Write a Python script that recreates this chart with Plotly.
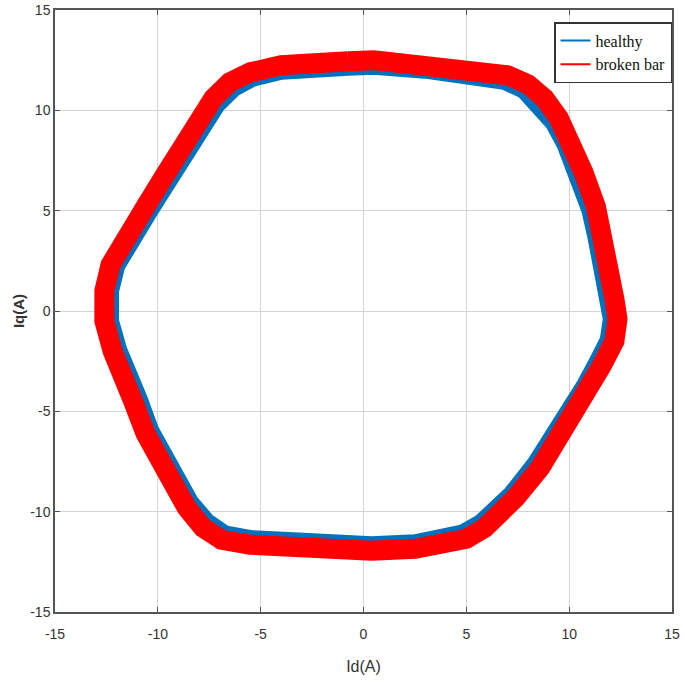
import plotly.graph_objects as go

# Read-off points (Id, Iq) of the band centre for each series (closed loop, start/end mid top edge)
healthy_id = [-0.75, -2.0, -4.0, -5.4, -6.3, -7.1, -8.45, -9.45, -10.35, -11.35, -12.0, -12.3, -12.3,
              -11.9, -11.5, -10.9, -10.35, -9.65, -9.05, -8.4, -7.6, -6.75, -5.4, -3.6, -1.5, 0.4,
              2.5, 3.9, 4.85, 5.7, 6.5, 7.2, 8.35, 9.15, 9.95, 10.75, 11.3, 11.9, 12.05, 11.9, 11.7,
              11.3, 11.0, 10.4, 9.8, 9.25, 8.55, 7.8, 6.85, 4.95, 3.0, 0.5, -0.75]
healthy_iq = [12.15, 12.1, 11.95, 11.6, 11.1, 10.3, 8.3, 6.5, 5.05, 3.4, 2.25, 1.0, -0.5,
              -1.95, -2.75, -4.4, -5.95, -7.2, -8.4, -9.55, -10.5, -11.1, -11.35, -11.5, -11.65, -11.65,
              -11.55, -11.3, -11.05, -10.55, -9.85, -9.1, -7.6, -6.35, -5.15, -3.7, -2.65, -1.45, -0.4, 0.6, 1.85,
              3.7, 5.05, 6.75, 8.3, 9.35, 10.3, 11.0, 11.45, 11.75, 12.0, 12.2, 12.15]

broken_id = [-0.75, -2.0, -4.0, -5.5, -6.5, -7.3, -8.7, -9.7, -10.6, -11.6, -12.3, -12.6, -12.6,
             -12.2, -11.8, -11.2, -10.6, -9.9, -9.3, -8.6, -7.8, -6.9, -5.5, -3.6, -1.5, 0.4,
             2.5, 4.0, 5.0, 5.9, 6.7, 7.4, 8.6, 9.4, 10.2, 11.0, 11.6, 12.2, 12.35, 12.2, 12.0,
             11.6, 11.3, 10.7, 10.1, 9.5, 8.8, 8.0, 7.0, 5.0, 3.0, 0.5, -0.75]
broken_iq = [12.45, 12.4, 12.25, 11.9, 11.4, 10.6, 8.5, 6.7, 5.2, 3.5, 2.3, 1.0, -0.5,
             -2.0, -2.8, -4.5, -6.1, -7.4, -8.6, -9.8, -10.8, -11.4, -11.65, -11.8, -11.95, -11.95,
             -11.85, -11.6, -11.35, -10.8, -10.1, -9.3, -7.8, -6.5, -5.3, -3.8, -2.7, -1.5, -0.4, 0.6, 1.9,
             3.8, 5.2, 6.9, 8.5, 9.6, 10.6, 11.3, 11.75, 12.05, 12.3, 12.5, 12.45]

tick_vals = [-15, -10, -5, 0, 5, 10, 15]
tick_text = ["-15", "-10", "-5", "0", "5", "10", "15"]

series_names = ["healthy", "broken bar"]
series_colors = ["#0072BD", "#FF0000"]

fig = go.Figure()
fig.add_trace(go.Scatter(x=healthy_id, y=healthy_iq, mode="lines", name=series_names[0], showlegend=False,
                         line=dict(color=series_colors[0], width=17)))
fig.add_trace(go.Scatter(x=broken_id, y=broken_iq, mode="lines", name=series_names[1], showlegend=False,
                         line=dict(color=series_colors[1], width=20)))
# thin legend keys (as in the original legend)
for nm, col in zip(series_names, series_colors):
    fig.add_trace(go.Scatter(x=[None], y=[None], mode="lines", name=nm,
                             line=dict(color=col, width=2)))

axis_common = dict(
    range=[-15, 15], tickvals=tick_vals, ticktext=tick_text, showgrid=True, gridcolor="#d4d4d4", gridwidth=1,
    zeroline=False, showline=True, linecolor="#555555", linewidth=1.5, mirror="ticks",
    ticks="inside", ticklen=5, tickcolor="#555555", automargin=False,
    tickfont=dict(family="Liberation Sans, Arial", size=14, color="#333333"),
)
fig.update_xaxes(**axis_common, ticklabelstandoff=8,
                 title=dict(text="Id(A)", font=dict(family="Liberation Sans, Arial", size=16, color="#333333"), standoff=20))
fig.update_yaxes(**axis_common,
                 title=dict(text="<b>Iq(A)</b>", font=dict(family="Liberation Sans, Arial", size=15, color="#333333"), standoff=2))

fig.update_layout(
    width=685, height=695,
    margin=dict(l=55, r=13, t=10, b=83),
    plot_bgcolor="white", paper_bgcolor="white",
    showlegend=True,
    legend=dict(x=1.0, y=0.98, xanchor="right", yanchor="top",
                bgcolor="white", bordercolor="#333333", borderwidth=1.5,
                font=dict(family="Liberation Serif, Times New Roman", size=16, color="#111111"),
                itemwidth=30, tracegroupgap=0),
)
fig.write_html("out.html", config={"displayModeBar": False},
               post_script="document.body.style.margin='0';")
